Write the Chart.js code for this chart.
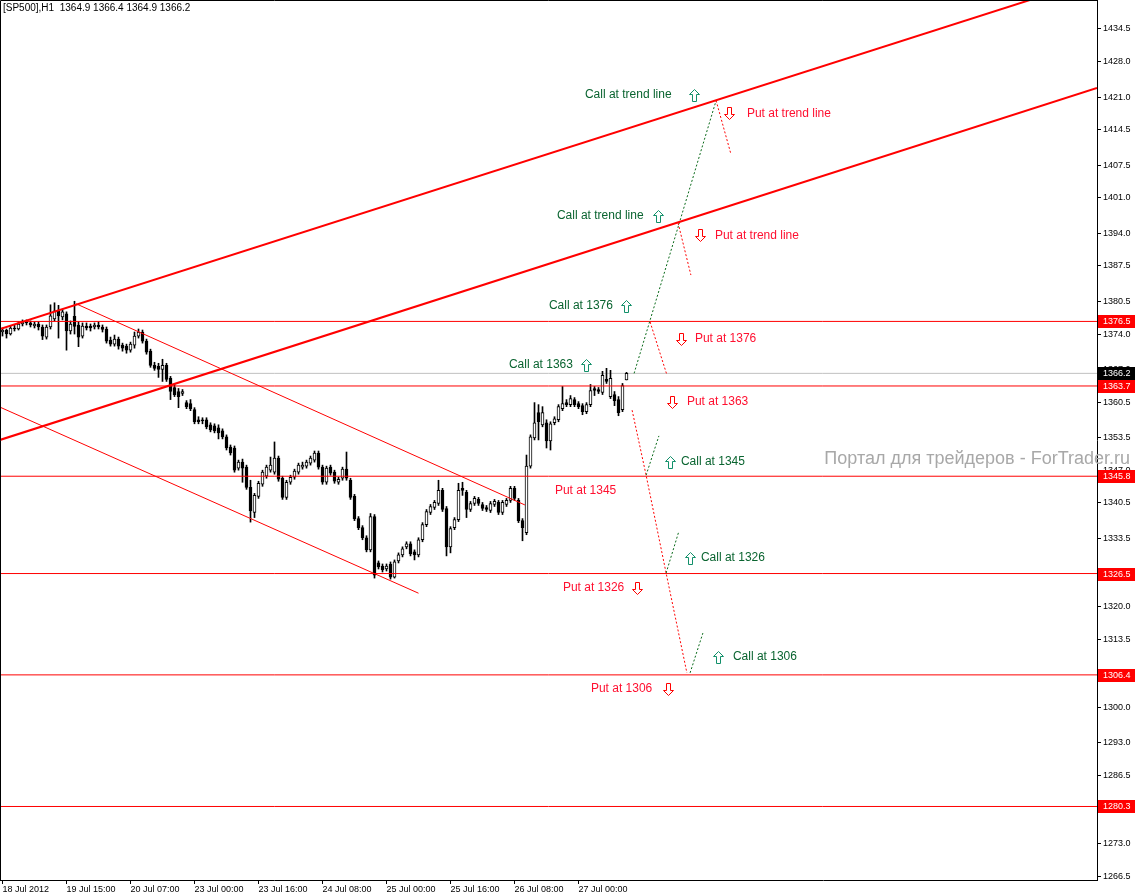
<!DOCTYPE html>
<html>
<head>
<meta charset="utf-8">
<script src="https://cdn.jsdelivr.net/npm/chart.js@4.4.1/dist/chart.umd.min.js"></script>
<style>
  html, body { margin: 0; padding: 0; background: #fff; }
  canvas { display: block; }
</style>
</head>
<body>
<canvas id="chart" width="1137" height="896"></canvas>
<script>
const symbol = "[SP500],H1";

// H1 candles, bar index 0 = 18 Jul 2012
const opens = [
  1374.4,1374.8,1374.0,1375.2,1375.0,1376.0,1376.4,1376.2,1375.6,1376.0,
  1375.4,1373.4,1375.4,1377.0,1378.6,1377.4,1378.0,1374.6,1377.5,1375.8,
  1373.6,1375.6,1375.6,1375.4,1375.8,1375.4,1375.0,1372.8,1372.0,1373.0,
  1371.8,1371.6,1370.8,1371.8,1373.6,1374.4,1372.6,1370.6,1367.8,1367.6,
  1367.0,1367.8,1365.2,1363.4,1362.6,1362.2,1360.4,1360.2,1359.0,1357.0,
  1357.0,1357.0,1356.0,1355.8,1355.4,1354.8,1353.6,1351.6,1351.4,1347.4,
  1348.6,1347.6,1343.6,1338.6,1341.8,1344.2,1345.8,1347.0,1346.6,1349.4,
  1345.4,1341.6,1344.6,1345.6,1346.6,1347.6,1347.8,1348.4,1349.0,1350.4,
  1347.6,1344.6,1347.6,1346.6,1344.6,1345.4,1347.2,1345.0,1341.8,1337.4,
  1335.6,1333.6,1331.2,1337.8,1328.6,1328.0,1327.4,1328.4,1325.8,1329.0,
  1330.2,1331.8,1332.4,1330.8,1330.2,1333.2,1336.2,1338.6,1339.6,1340.4,
  1343.0,1339.4,1331.8,1335.6,1337.2,1343.4,1342.6,1339.2,1340.4,1341.2,
  1340.2,1339.6,1339.0,1340.2,1340.6,1338.6,1340.2,1341.0,1343.4,1341.0,
  1337.0,1334.6,1347.8,1353.4,1358.4,1356.0,1356.4,1352.8,1356.4,1357.0,
  1359.2,1360.4,1360.0,1361.0,1360.2,1359.8,1358.6,1360.0,1363.2,1363.0,
  1362.4,1365.0,1361.6,1362.0,1361.0,1359.0,1364.9
];
const highs = [
  1375.2,1375.0,1375.6,1375.8,1376.4,1376.8,1376.8,1376.6,1376.4,1376.4,
  1375.8,1375.8,1379.8,1380.2,1379.7,1378.8,1378.4,1376.6,1380.5,1376.4,
  1376.2,1376.2,1376.0,1376.2,1376.4,1375.8,1375.4,1373.4,1373.8,1373.4,
  1372.2,1372.0,1372.4,1374.4,1375.0,1374.8,1373.0,1371.0,1368.4,1368.2,
  1369.0,1368.2,1365.6,1364.0,1363.2,1363.0,1360.8,1361.0,1359.4,1357.6,
  1357.4,1357.4,1356.4,1356.2,1356.0,1355.2,1354.0,1352.0,1351.8,1349.0,
  1349.2,1348.0,1345.0,1342.4,1344.8,1347.0,1348.0,1349.6,1352.6,1349.8,
  1345.8,1345.0,1346.0,1347.2,1348.4,1348.6,1349.0,1349.8,1350.8,1350.8,
  1348.0,1347.8,1348.0,1347.0,1345.6,1347.6,1350.6,1345.4,1342.2,1337.8,
  1336.0,1334.0,1338.4,1338.2,1329.0,1328.4,1328.4,1328.8,1329.2,1330.6,
  1331.8,1332.8,1332.8,1331.2,1333.6,1336.6,1339.2,1340.2,1341.0,1345.0,
  1343.4,1339.8,1335.8,1337.6,1344.4,1344.6,1343.0,1340.8,1341.8,1341.6,
  1340.6,1340.0,1340.8,1341.2,1341.0,1341.0,1341.4,1343.8,1343.8,1341.4,
  1337.4,1350.0,1354.0,1360.4,1360.0,1359.6,1357.0,1356.6,1357.6,1360.0,
  1363.6,1361.0,1361.8,1361.4,1360.6,1360.2,1360.4,1364.0,1363.6,1363.4,
  1366.6,1367.2,1366.8,1362.6,1361.6,1364.2,1366.4
];
const lows = [
  1373.6,1373.2,1373.8,1374.6,1374.8,1375.6,1375.8,1375.4,1375.2,1374.8,
  1372.9,1373.0,1375.0,1376.6,1373.2,1376.8,1370.8,1374.0,1374.0,1371.5,
  1373.2,1374.8,1374.6,1375.0,1375.0,1374.4,1372.2,1371.6,1371.6,1371.0,
  1370.6,1370.2,1370.4,1371.2,1373.2,1372.2,1370.0,1367.4,1366.8,1365.4,
  1364.6,1364.6,1361.0,1361.6,1359.4,1361.8,1359.2,1358.8,1356.2,1356.2,
  1356.2,1355.2,1354.6,1354.4,1353.2,1353.2,1351.0,1350.0,1346.6,1347.0,
  1344.6,1343.2,1336.7,1337.6,1341.4,1343.8,1345.4,1346.6,1346.2,1344.8,
  1341.2,1341.2,1344.2,1345.2,1346.2,1347.2,1347.4,1348.0,1348.6,1347.2,
  1344.2,1344.2,1346.0,1344.4,1344.2,1345.0,1345.0,1341.2,1337.0,1335.2,
  1333.2,1330.8,1330.8,1325.6,1327.4,1326.8,1327.0,1325.4,1325.6,1328.6,
  1329.8,1331.4,1330.0,1329.2,1329.8,1332.8,1335.8,1338.2,1339.2,1340.0,
  1338.8,1330.0,1330.6,1335.2,1336.8,1342.0,1337.6,1338.8,1340.0,1340.0,
  1339.0,1338.8,1338.6,1339.8,1338.2,1338.2,1339.8,1340.6,1341.0,1336.6,
  1333.0,1334.2,1347.4,1353.0,1353.0,1355.6,1351.4,1351.0,1356.0,1356.6,
  1358.8,1359.6,1359.6,1359.6,1359.2,1358.0,1358.2,1359.6,1361.8,1362.2,
  1362.0,1364.2,1361.2,1359.8,1357.8,1358.6,1364.9
];
const closes = [
  1374.8,1374.0,1375.2,1375.0,1376.0,1376.4,1376.2,1375.8,1376.0,1375.4,
  1373.6,1375.4,1377.6,1378.6,1377.6,1378.4,1374.6,1376.0,1375.5,1373.4,
  1375.6,1375.2,1375.2,1375.8,1375.4,1374.9,1372.6,1372.0,1373.0,1371.6,
  1371.2,1370.8,1372.0,1373.6,1374.4,1372.6,1370.4,1367.8,1367.2,1367.0,
  1367.8,1365.0,1362.6,1362.0,1361.6,1362.6,1359.6,1359.2,1356.6,1356.6,
  1356.8,1355.6,1355.0,1354.8,1354.4,1353.6,1351.4,1350.4,1347.0,1348.6,
  1347.4,1343.6,1338.9,1342.0,1344.4,1346.6,1347.6,1348.0,1349.4,1345.2,
  1341.6,1344.6,1345.6,1346.8,1348.0,1348.0,1348.6,1349.4,1350.4,1347.6,
  1344.6,1347.4,1346.4,1344.8,1345.2,1347.2,1345.4,1341.6,1337.4,1335.6,
  1333.6,1331.2,1337.8,1326.2,1327.8,1327.2,1328.0,1325.8,1328.8,1330.2,
  1331.4,1332.4,1330.4,1330.2,1333.2,1336.2,1338.8,1339.8,1340.6,1343.0,
  1339.2,1331.8,1335.4,1337.2,1343.0,1343.0,1339.2,1340.4,1341.4,1340.4,
  1339.4,1339.2,1340.4,1340.8,1338.6,1340.6,1341.0,1343.4,1341.4,1337.0,
  1335.6,1347.8,1353.6,1356.4,1356.6,1358.4,1352.8,1356.2,1357.2,1359.6,
  1360.2,1360.0,1361.2,1360.0,1359.6,1358.6,1360.0,1362.8,1362.8,1362.6,
  1365.8,1364.6,1365.2,1360.8,1358.4,1363.8,1366.2
];

// axes
const xTickIdx = [0, 16, 32, 48, 64, 80, 96, 112, 128, 144];
const xTickLabels = ["18 Jul 2012", "19 Jul 15:00", "20 Jul 07:00", "23 Jul 00:00", "23 Jul 16:00",
                     "24 Jul 08:00", "25 Jul 00:00", "25 Jul 16:00", "26 Jul 08:00", "27 Jul 00:00"];
const yTicks = [1266.5, 1273.0, 1279.5, 1286.5, 1293.0, 1300.0, 1306.5, 1313.5, 1320.0, 1327.0,
                1333.5, 1340.5, 1347.0, 1353.5, 1360.5, 1367.0, 1374.0, 1380.5, 1387.5, 1394.0,
                1401.0, 1407.5, 1414.5, 1421.0, 1428.0, 1434.5];
const xMin = -0.625, xMax = 273.625;
const yMin = 1265.72, yMax = 1440.25;

// levels
const levels = [1376.5, 1363.7, 1345.8, 1326.5, 1306.4, 1280.3];
const bidPrice = 1366.2;

// trend lines [bar index, price]
const channelUpper = [[-0.625, 1375.0], [273.625, 1444.5]];
const channelLower = [[-0.625, 1353.0], [273.625, 1422.8]];
const downUpper = [[18.4, 1380.0], [130.6, 1340.1]];
const downLower = [[-0.625, 1359.5], [104.0, 1322.6]];

// projected scenarios
const callPaths = [
  [[157.9, 1366.2], [178.4, 1420.3]],
  [[160.9, 1346.0], [164.1, 1353.8]],
  [[165.9, 1326.6], [169.1, 1334.9]],
  [[171.9, 1306.8], [175.1, 1314.7]]
];
const putPaths = [
  [[178.4, 1420.3], [182.1, 1409.7]],
  [[168.9, 1396.0], [172.1, 1385.7]],
  [[161.9, 1376.4], [166.1, 1365.9]],
  [[157.4, 1358.9], [160.9, 1346.0], [165.9, 1326.6], [171.1, 1306.8]]
];

// text notes: label, bar index, price, arrow bar index (null = none)
const callNotes = [
  ["Call at trend line", 145.6, 1421.4, 172.9],
  ["Call at trend line", 138.6, 1397.4, 163.9],
  ["Call at 1376", 136.6, 1379.6, 155.9],
  ["Call at 1363", 126.6, 1367.9, 145.9],
  ["Call at 1345", 169.6, 1348.6, 166.9],
  ["Call at 1326", 174.6, 1329.6, 171.9],
  ["Call at 1306", 182.6, 1310.0, 178.9]
];
const putNotes = [
  ["Put at trend line", 186.1, 1417.8, 181.6],
  ["Put at trend line", 178.1, 1393.6, 174.4],
  ["Put at 1376", 173.1, 1373.0, 169.6],
  ["Put at 1363", 171.1, 1360.5, 167.4],
  ["Put at 1345", 138.1, 1342.9, null],
  ["Put at 1326", 140.1, 1323.6, 158.6],
  ["Put at 1306", 147.1, 1303.6, 166.4]
];

const RED = "#ff0000";
const CALL_TEXT = "#0a6430";
const CALL_ARROW = "#12906a";
const PUT_TEXT = "#ff1030";
const FONT = '"Liberation Sans", Arial, sans-serif';

const idx = closes.map((c, i) => i);
const pts = arr => arr.map(p => ({ x: p[0], y: p[1] }));
const lineSet = (data, color, width, dash, order) => ({
  type: "line", data: pts(data), borderColor: color, borderWidth: width,
  borderDash: dash || [], pointRadius: 0, fill: false, tension: 0, order: order
});

const datasets = [
  {
    type: "bar", label: "body", order: 2, grouped: false, barThickness: 3, minBarLength: 1,
    data: idx.map(i => ({ x: i, y: [opens[i], closes[i]] })),
    backgroundColor: c => closes[c.dataIndex] >= opens[c.dataIndex] ? "#ffffff" : "#000000",
    borderColor: "#000000", borderWidth: 1, borderSkipped: false
  },
  {
    type: "bar", label: "wick", order: 3, grouped: false, barThickness: 1,
    data: idx.map(i => ({ x: i, y: [lows[i], highs[i]] })),
    backgroundColor: "#000000", borderWidth: 0
  },
  lineSet([[xMin, bidPrice], [xMax, bidPrice]], "#c0c0c0", 1, null, 4)
];
levels.forEach(v => datasets.push(lineSet([[xMin, v], [xMax, v]], RED, 1, null, 1)));
datasets.push(lineSet(channelUpper, RED, 2, null, 0));
datasets.push(lineSet(channelLower, RED, 2, null, 0));
datasets.push(lineSet(downUpper, RED, 1, null, 1));
datasets.push(lineSet(downLower, RED, 1, null, 1));
callPaths.forEach(p => datasets.push(lineSet(p, "#0a6a1a", 1, [2, 2], 0)));
putPaths.forEach(p => datasets.push(lineSet(p, RED, 1, [2, 2], 0)));

// hollow MT4-style arrow centred on (cx, cy); dir 1 = up, -1 = down
function arrow(ctx, cx, cy, dir, color) {
  const x = Math.round(cx) + 0.5, y = Math.round(cy) + 0.5;
  const s = [[0, -6], [5, -1], [2, -1], [2, 6], [-2, 6], [-2, -1], [-5, -1]];
  ctx.beginPath();
  s.forEach((p, k) => {
    const px = x + p[0], py = y + p[1] * dir;
    if (k === 0) ctx.moveTo(px, py); else ctx.lineTo(px, py);
  });
  ctx.closePath();
  ctx.fillStyle = "#fff";
  ctx.fill();
  ctx.strokeStyle = color;
  ctx.lineWidth = 1;
  ctx.stroke();
}

const overlay = {
  id: "overlay",
  afterDatasetsDraw(chart) {
    const { ctx, scales: { x, y } } = chart;
    ctx.save();
    ctx.textBaseline = "middle";
    ctx.font = "12px " + FONT;
    ctx.textAlign = "left";
    const note = (list, textColor, arrowColor, dir) => {
      list.forEach(n => {
        const py = y.getPixelForValue(n[2]);
        ctx.fillStyle = textColor;
        ctx.fillText(n[0], x.getPixelForValue(n[1]), py);
        if (n[3] !== null) arrow(ctx, x.getPixelForValue(n[3]), py, dir, arrowColor);
      });
    };
    note(callNotes, CALL_TEXT, CALL_ARROW, 1);
    note(putNotes, PUT_TEXT, RED, -1);
    ctx.restore();
  },
  afterDraw(chart) {
    const { ctx, chartArea: a, scales: { y } } = chart;
    ctx.save();
    // frame
    ctx.strokeStyle = "#000";
    ctx.lineWidth = 1;
    ctx.beginPath();
    ctx.moveTo(0.5, a.bottom);
    ctx.lineTo(0.5, 0.5);
    ctx.lineTo(a.right, 0.5);
    ctx.stroke();
    // price tags on the axis
    ctx.font = "9px " + FONT;
    ctx.textBaseline = "middle";
    ctx.textAlign = "left";
    const tag = (v, bg) => {
      const py = Math.round(y.getPixelForValue(v));
      ctx.fillStyle = bg;
      ctx.fillRect(a.right + 1, py - 6, 37, 13);
      ctx.fillStyle = "#fff";
      ctx.fillText(v.toFixed(1), a.right + 6, py + 0.5);
    };
    levels.forEach(v => tag(v, RED));
    tag(bidPrice, "#000");
    // header
    const n = closes.length - 1;
    ctx.font = "10px " + FONT;
    ctx.fillStyle = "#000";
    ctx.fillText(symbol + "  " + [opens[n], highs[n], lows[n], closes[n]].map(v => v.toFixed(1)).join(" "), 3, 8);
    // watermark
    ctx.font = "18px " + FONT;
    ctx.textAlign = "right";
    ctx.fillStyle = "#a8a8a8";
    ctx.fillText("Портал для трейдеров - ForTrader.ru", chart.width - 7, 459);
    ctx.restore();
  }
};

new Chart(document.getElementById("chart"), {
  type: "bar",
  data: { datasets },
  plugins: [overlay],
  options: {
    responsive: false,
    animation: false,
    devicePixelRatio: 1,
    layout: { padding: 0 },
    plugins: { legend: { display: false }, tooltip: { enabled: false } },
    scales: {
      x: {
        type: "linear", min: xMin, max: xMax, offset: false,
        grid: { offset: false, drawOnChartArea: false, drawTicks: true, tickLength: 4, color: "#000" },
        border: { display: true, color: "#000" },
        ticks: {
          align: "start", maxRotation: 0, autoSkip: false, padding: 0, color: "#000",
          font: { family: FONT, size: 9 },
          callback: v => xTickLabels[xTickIdx.indexOf(v)] || ""
        },
        afterBuildTicks: s => { s.ticks = xTickIdx.map(v => ({ value: v })); },
        afterFit: s => { s.height = 16; s.paddingLeft = 0; s.paddingRight = 0; }
      },
      y: {
        type: "linear", position: "right", min: yMin, max: yMax,
        grid: { drawOnChartArea: false, drawTicks: true, tickLength: 4, color: "#000" },
        border: { display: true, color: "#000" },
        ticks: {
          padding: 2, color: "#000", font: { family: FONT, size: 9 },
          callback: v => v.toFixed(1)
        },
        afterBuildTicks: s => { s.ticks = yTicks.map(v => ({ value: v })); },
        afterFit: s => { s.width = 40; s.paddingTop = 0; s.paddingBottom = 0; }
      }
    }
  }
});
</script>
</body>
</html>
